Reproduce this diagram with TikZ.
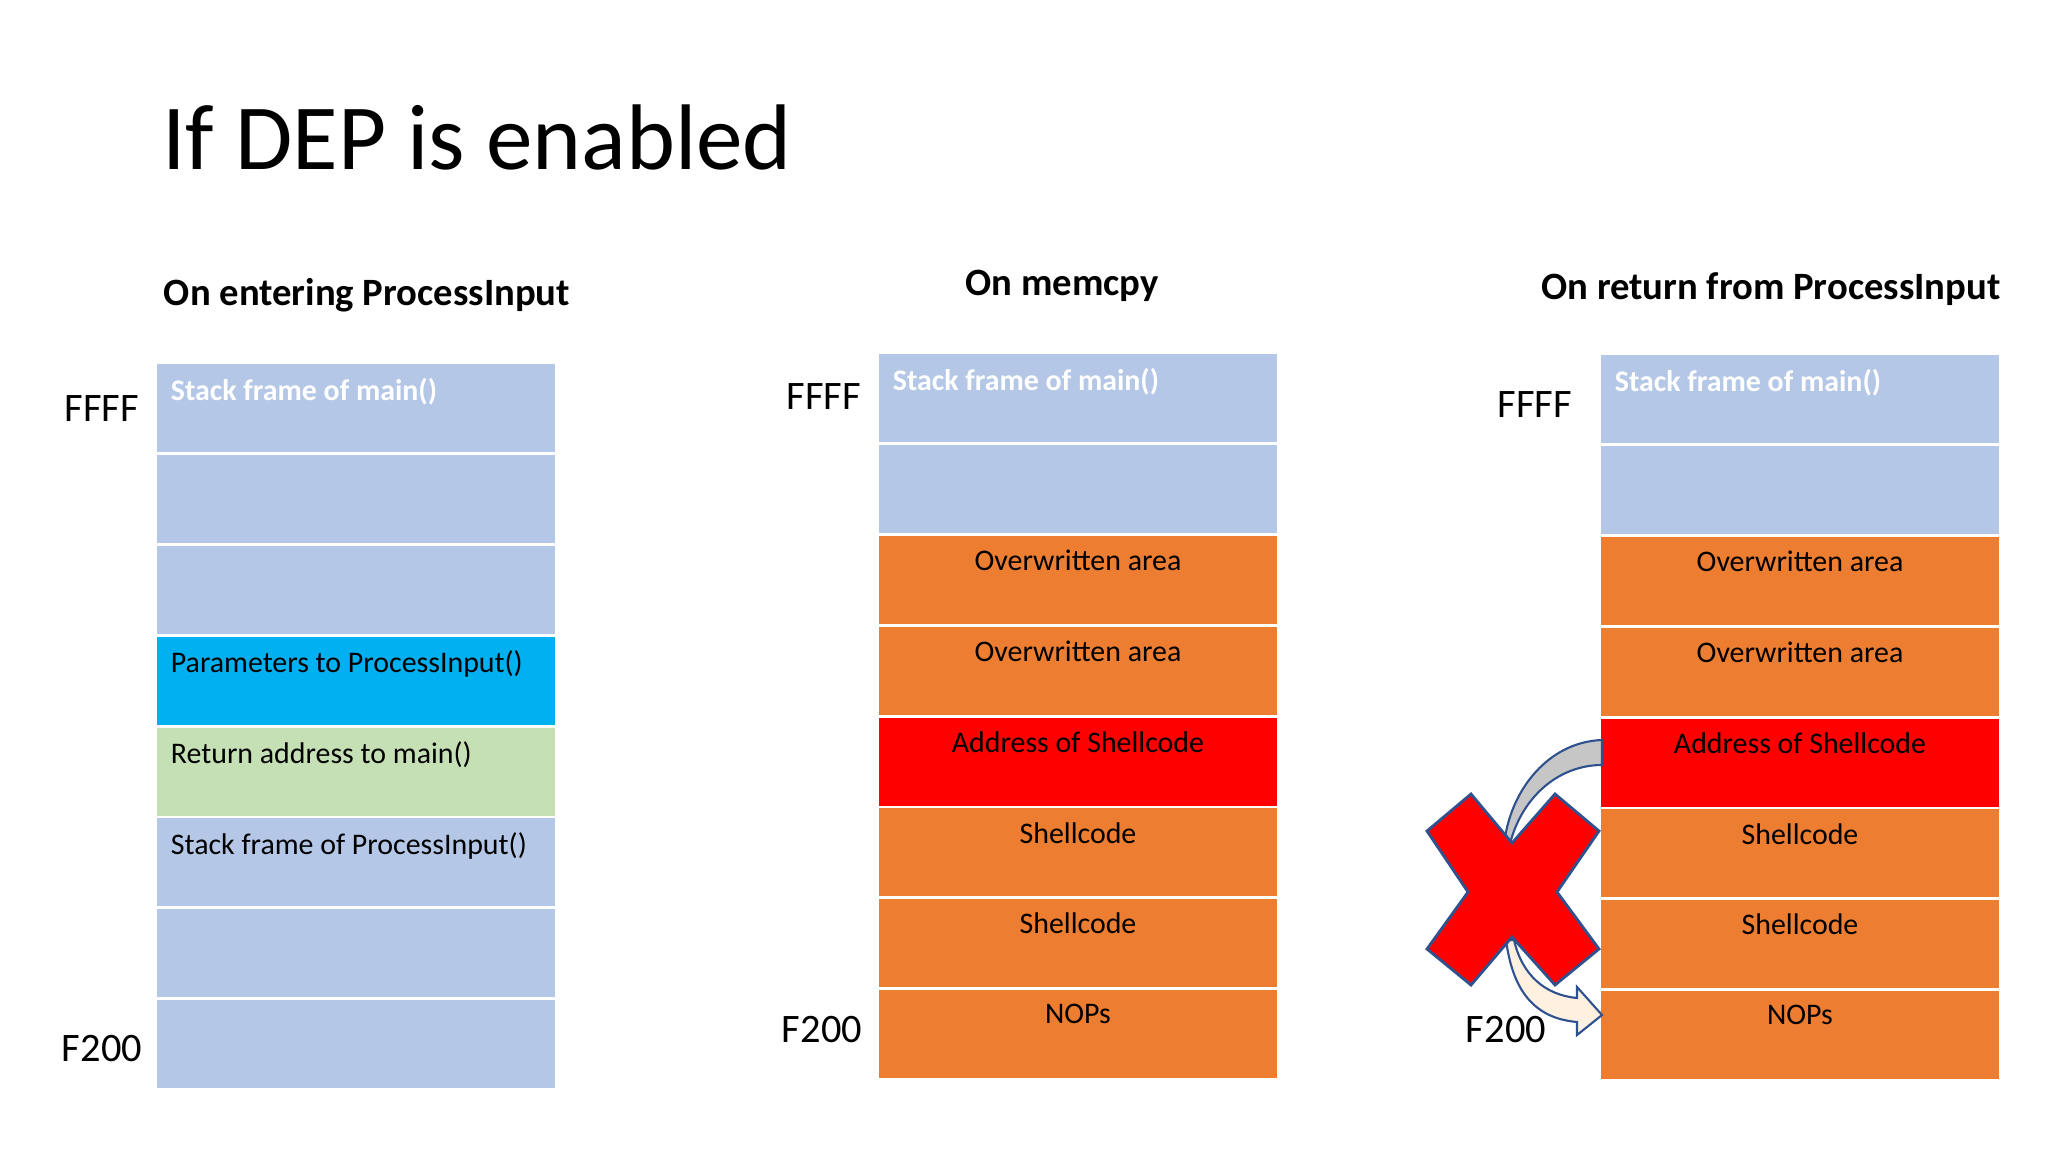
\documentclass[tikz,border=0pt]{standalone}
\usepackage{fontspec}
\setmainfont{Carlito}
\usetikzlibrary{positioning,calc}
\definecolor{frameblue}{HTML}{B4C7E7}
\definecolor{paramcyan}{HTML}{00B0F0}
\definecolor{retgreen}{HTML}{C5E0B4}
\definecolor{overorange}{HTML}{ED7D31}
\definecolor{addrred}{HTML}{FF0000}
\definecolor{edgeblue}{HTML}{2F528F}

\begin{document}
\begin{tikzpicture}[x=0.01cm, y=-0.01cm]
        \tikzstyle{cell}=[rectangle, minimum width=3.98cm, minimum height=0.88cm, inner sep=0pt]
        \tikzstyle{celltext}=[font=\fontsize{8.5}{10}\selectfont, inner sep=0pt, anchor=north]
        \tikzstyle{head}=[font=\fontsize{11}{14}\selectfont\bfseries]
        \tikzstyle{addr}=[font=\fontsize{11.5}{14}\selectfont]

        % Canvas
        \useasboundingbox (0,0) rectangle (2048,1152);

        % Title
        \node[anchor=west, font=\fontsize{26.5}{32}\selectfont] (title) at (150,137) {If DEP is enabled};

        % Column headings
        \node[head] (h1) at (367,295) {On entering ProcessInput};
        \node[head] (h2) at (1062,286) {On memcpy};
        \node[head] (h3) at (1771,289) {On return from ProcessInput};

        % Left stack
        \foreach \i/\c in {1/frameblue,2/frameblue,3/frameblue,4/paramcyan,5/retgreen,6/frameblue,7/frameblue,8/frameblue}
            \node[cell, fill=\c] (a\i) at (356,{363+45.4+90.8*(\i-1)}) {};
        \node[celltext, anchor=north west, text=white, font=\fontsize{8.5}{10}\selectfont\bfseries] at ([xshift=0.14cm,yshift=-0.14cm]a1.north west) {Stack frame of main()};
        \node[celltext, anchor=north west] at ([xshift=0.14cm,yshift=-0.14cm]a4.north west) {Parameters to ProcessInput()};
        \node[celltext, anchor=north west] at ([xshift=0.14cm,yshift=-0.14cm]a5.north west) {Return address to main()};
        \node[celltext, anchor=north west] at ([xshift=0.14cm,yshift=-0.14cm]a6.north west) {Stack frame of ProcessInput()};

        % Middle and right stacks
        \foreach \s/\x/\t in {b/1078/353, c/1800/354} {
            \foreach \i/\c/\l in {1/frameblue/{},2/frameblue/{},3/overorange/{Overwritten area},4/overorange/{Overwritten area},5/addrred/{Address of Shellcode},6/overorange/Shellcode,7/overorange/Shellcode,8/overorange/NOPs} {
                \node[cell, fill=\c] (\s\i) at (\x,{\t+45.4+90.8*(\i-1)}) {};
                \node[celltext] at ([yshift=-0.14cm]\s\i.north) {\l};
            }
            \node[celltext, anchor=north west, text=white, font=\fontsize{8.5}{10}\selectfont\bfseries] at ([xshift=0.14cm,yshift=-0.14cm]\s1.north west) {Stack frame of main()};
        }

        % Address labels
        \node[addr] (ffa) at (102,409) {FFFF};
        \node[addr] (f2a) at (102,1049) {F200};
        \node[addr] (ffb) at (824,397) {FFFF};
        \node[addr] (f2b) at (822,1030) {F200};
        \node[addr] (ffc) at (1535,405) {FFFF};
        \node[addr] (f2c) at (1506,1030) {F200};

        % Jump arrows
        \draw[edgeblue, fill=gray!45, line width=0.6pt] (1602,740) .. controls (1548,742) and (1512,790) .. (1505,838)
            -- (1511,840) .. controls (1524,795) and (1560,765) .. (1602,765) -- cycle;
        \draw[edgeblue, fill=orange!12, line width=0.6pt] (1514,940) .. controls (1522,975) and (1545,995) .. (1577,998)
            -- (1577,987) -- (1602,1015) -- (1577,1035) -- (1577,1022)
            .. controls (1530,1018) and (1512,985) .. (1506,940) -- cycle;

        % Red cross
        \draw[edgeblue, fill=addrred, line width=0.8pt, line join=miter] (1471,794) -- (1512,843) -- (1555,794) -- (1599,831) -- (1557,892) -- (1599,949)
            -- (1555,985) -- (1512,937) -- (1471,985) -- (1427,949) -- (1468,892) -- (1427,831) -- cycle;
\end{tikzpicture}
\end{document}
